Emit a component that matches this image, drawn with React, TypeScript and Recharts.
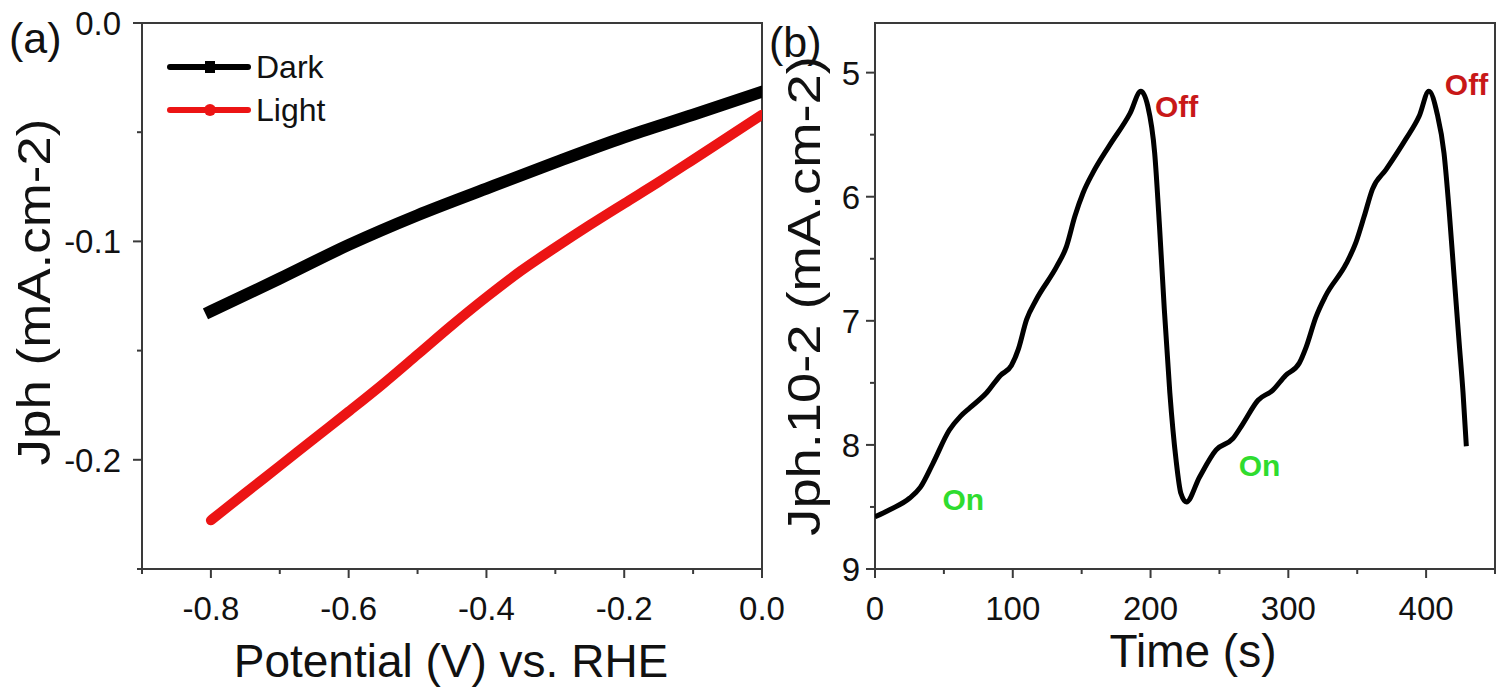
import React from 'react';
import { LineChart, Line, XAxis, YAxis, ReferenceArea, ReferenceDot, Legend } from 'recharts';

// ---------- Panel (a): J-V curves ----------
const darkPotential = [-0.8, -0.7, -0.6, -0.5, -0.4, -0.3, -0.2, -0.1, 0.0];
const darkCurrent = [-0.132, -0.117, -0.1016, -0.088, -0.0758, -0.0638, -0.0523, -0.042, -0.0315];

const lightPotential = [-0.8, -0.75, -0.7, -0.65, -0.6, -0.55, -0.5, -0.45, -0.4, -0.35, -0.3, -0.25, -0.2, -0.15, -0.1, -0.05, 0.0];
const lightCurrent = [-0.2277, -0.2152, -0.2028, -0.1903, -0.1779, -0.1652, -0.1518, -0.1383, -0.1255, -0.1135, -0.1028, -0.0925, -0.0826, -0.0728, -0.0626, -0.0523, -0.042];

const aXTicks = [-0.9, -0.8, -0.7, -0.6, -0.5, -0.4, -0.3, -0.2, -0.1, 0.0];
const aYTicks = [0, -0.05, -0.1, -0.15, -0.2, -0.25];
const seriesNames = ['Dark', 'Light'];

// ---------- Panel (b): transient photocurrent ----------
const timeS = [0, 11, 25, 33, 42, 54, 62, 69, 81, 91, 99, 104, 110, 117, 132, 139, 145, 151, 158, 170, 185, 193, 198, 203, 206.5, 210, 214, 218.5, 222, 226, 235.5, 247.6, 259.7, 267, 278, 288.6, 298, 308, 313, 320, 327, 342, 349, 355, 361, 371, 385, 395, 402, 408, 413, 416.7, 420.3, 424, 426.8, 429.2];
const jph = [8.58, 8.52, 8.43, 8.34, 8.15, 7.88, 7.77, 7.70, 7.58, 7.44, 7.36, 7.23, 6.99, 6.83, 6.56, 6.40, 6.16, 5.97, 5.81, 5.59, 5.33, 5.15, 5.27, 5.65, 6.24, 6.91, 7.58, 8.12, 8.39, 8.46, 8.26, 8.04, 7.95, 7.83, 7.64, 7.56, 7.44, 7.34, 7.21, 6.97, 6.80, 6.54, 6.37, 6.16, 5.94, 5.78, 5.54, 5.35, 5.15, 5.33, 5.65, 6.11, 6.64, 7.18, 7.58, 8.01];

const bXTicks = [0, 50, 100, 150, 200, 250, 300, 350, 400, 450];
const bYTicks = [5, 5.5, 6, 6.5, 7, 7.5, 8, 8.5, 9];

const noteText = ['On', 'Off', 'On', 'Off'];
const noteTime = [49, 203.2, 264, 413.6];
const noteValue = [8.44, 5.27, 8.16, 5.09];

// ---------- styles ----------
const FONT = "'Liberation Sans', Arial, Helvetica, sans-serif";
const AXIS = '#3a3a3a';
const TXT = '#111';
const RED = '#ec1414';
const TICK_FS = 33;

const darkData = darkPotential.map((v, i) => ({ v, j: darkCurrent[i] }));
const lightData = lightPotential.map((v, i) => ({ v, j: lightCurrent[i] }));
const transientData = timeS.map((t, i) => ({ t, j: jph[i] }));

function makeYTick(axisX: number, gap: number, isMajor: (v: number) => boolean, fmt: (v: number) => string) {
  return (props: any) => {
    const y = props.y;
    const v = props.payload.value;
    const major = isMajor(v);
    return (
      <g>
        <line x1={axisX} x2={axisX - (major ? 9 : 5)} y1={y} y2={y} stroke={AXIS} strokeWidth={2} />
        {major ? (
          <text x={axisX - gap} y={y} dy="0.36em" textAnchor="end" fontSize={TICK_FS} fill={TXT} fontFamily={FONT}>
            {fmt(v)}
          </text>
        ) : null}
      </g>
    );
  };
}

function makeXTick(axisY: number, baseline: number, isMajor: (v: number) => boolean, fmt: (v: number) => string) {
  return (props: any) => {
    const x = props.x;
    const v = props.payload.value;
    const major = isMajor(v);
    return (
      <g>
        <line x1={x} x2={x} y1={axisY} y2={axisY + (major ? 9 : 5)} stroke={AXIS} strokeWidth={2} />
        {major ? (
          <text x={x} y={baseline} textAnchor="middle" fontSize={TICK_FS} fill={TXT} fontFamily={FONT}>
            {fmt(v)}
          </text>
        ) : null}
      </g>
    );
  };
}

const isTenth = (v: number) => Math.abs(v * 10 - Math.round(v * 10)) < 1e-6;
const isEvenTenth = (v: number) => Math.round(v * 10) % 2 === 0;
const fmt1 = (v: number) => (Math.abs(v) < 1e-9 ? '0.0' : v.toFixed(1));

const LegendBox = () => (
  <svg width={220} height={90} style={{ display: 'block' }}>
    <line x1={10} x2={88} y1={27} y2={27} stroke="#000" strokeWidth={6} strokeLinecap="round" />
    <rect x={45} y={21} width={10} height={12} fill="#000" />
    <text x={96} y={38} fontSize={32} fill={TXT} fontFamily={FONT}>{seriesNames[0]}</text>
    <line x1={10} x2={88} y1={70} y2={70} stroke={RED} strokeWidth={6} strokeLinecap="round" />
    <circle cx={50} cy={70} r={6} fill={RED} />
    <text x={96} y={81} fontSize={32} fill={TXT} fontFamily={FONT}>{seriesNames[1]}</text>
  </svg>
);

const NoteShape = (text: string) => (p: any) => (
  <text
    x={p.cx}
    y={p.cy}
    dy="0.36em"
    textAnchor="start"
    fontSize={30}
    fontWeight="bold"
    fill={text === 'Off' ? '#c81818' : '#2fdc2f'}
    fontFamily={FONT}
  >
    {text}
  </text>
);

export default function App() {
  return (
    <div style={{ position: 'absolute', left: 0, top: 0, width: 1500, height: 692, background: '#fff', fontFamily: FONT }}>
      {/* Panel (a) */}
      <div style={{ position: 'absolute', left: 0, top: 0 }}>
        <LineChart width={800} height={692} margin={{ top: 23, right: 38, bottom: 0, left: 0 }}>
          <XAxis
            type="number"
            dataKey="v"
            domain={[-0.9, 0]}
            ticks={aXTicks}
            interval={0}
            allowDataOverflow
            height={123}
            axisLine={false}
            tickLine={false}
            tickSize={0}
            tickMargin={0}
            tick={makeXTick(569, 620, isEvenTenth, fmt1)}
            label={() => (
              <text x={451} y={677} textAnchor="middle" fontSize={46} fill={TXT} fontFamily={FONT}>
                Potential (V) vs. RHE
              </text>
            )}
          />
          <YAxis
            type="number"
            domain={[-0.25, 0]}
            ticks={aYTicks}
            interval={0}
            allowDataOverflow
            width={142}
            axisLine={false}
            tickLine={false}
            tickSize={0}
            tickMargin={0}
            tick={makeYTick(142, 21, isTenth, fmt1)}
            label={() => (
              <g>
                <text
                  transform="translate(50,292) rotate(-90) scale(1.15,1)"
                  textAnchor="middle"
                  fontSize={46}
                  fill={TXT}
                  fontFamily={FONT}
                >
                  Jph (mA.cm-2)
                </text>
                <text x={9} y={53} fontSize={43} fill={TXT} fontFamily={FONT}>(a)</text>
              </g>
            )}
          />
          <ReferenceArea x1={-0.9} x2={0} y1={-0.25} y2={0} fill="none" stroke={AXIS} strokeWidth={2} ifOverflow="visible" />
          <Line
            data={lightData}
            dataKey="j"
            name={seriesNames[1]}
            type="monotone"
            stroke={RED}
            strokeWidth={10}
            strokeLinecap="round"
            dot={false}
            activeDot={false}
            isAnimationActive={false}
          />
          <Line
            data={darkData}
            dataKey="j"
            name={seriesNames[0]}
            type="monotone"
            stroke="#000"
            strokeWidth={12}
            strokeLinecap="square"
            dot={false}
            activeDot={false}
            isAnimationActive={false}
          />
          <Legend
            layout="vertical"
            align="center"
            verticalAlign="middle"
            content={() => <LegendBox />}
            wrapperStyle={{ position: 'absolute', left: 160, top: 40, width: 220, height: 90 }}
          />
        </LineChart>
      </div>

      {/* Panel (b) */}
      <div style={{ position: 'absolute', left: 760, top: 0 }}>
        <LineChart width={740} height={692} margin={{ top: 23, right: 5, bottom: 0, left: 0 }}>
          <XAxis
            type="number"
            dataKey="t"
            domain={[0, 450]}
            ticks={bXTicks}
            interval={0}
            allowDataOverflow
            height={123}
            axisLine={false}
            tickLine={false}
            tickSize={0}
            tickMargin={0}
            tick={makeXTick(569, 620, (v) => v % 100 === 0, (v) => String(v))}
            label={() => (
              <text x={433} y={667} textAnchor="middle" fontSize={46} fill={TXT} fontFamily={FONT}>
                Time (s)
              </text>
            )}
          />
          <YAxis
            type="number"
            domain={[4.6, 9]}
            reversed
            ticks={bYTicks}
            interval={0}
            allowDataOverflow
            width={115}
            axisLine={false}
            tickLine={false}
            tickSize={0}
            tickMargin={0}
            tick={makeYTick(115, 15, (v) => Number.isInteger(v), (v) => String(v))}
            label={() => (
              <g>
                <text
                  transform="translate(60,296) rotate(-90) scale(1.18,1)"
                  textAnchor="middle"
                  fontSize={46}
                  fill={TXT}
                  fontFamily={FONT}
                >
                  Jph.10-2 (mA.cm-2)
                </text>
                <text x={9} y={57} fontSize={43} fill={TXT} fontFamily={FONT}>(b)</text>
              </g>
            )}
          />
          <ReferenceArea x1={0} x2={450} y1={4.6} y2={9} fill="none" stroke={AXIS} strokeWidth={2} ifOverflow="visible" />
          <Line
            data={transientData}
            dataKey="j"
            type="monotone"
            stroke="#000"
            strokeWidth={5}
            strokeLinejoin="round"
            dot={false}
            activeDot={false}
            isAnimationActive={false}
          />
          {noteText.map((txt, i) => (
            <ReferenceDot
              key={i}
              x={noteTime[i]}
              y={noteValue[i]}
              r={1}
              ifOverflow="visible"
              shape={NoteShape(txt)}
            />
          ))}
        </LineChart>
      </div>
    </div>
  );
}
